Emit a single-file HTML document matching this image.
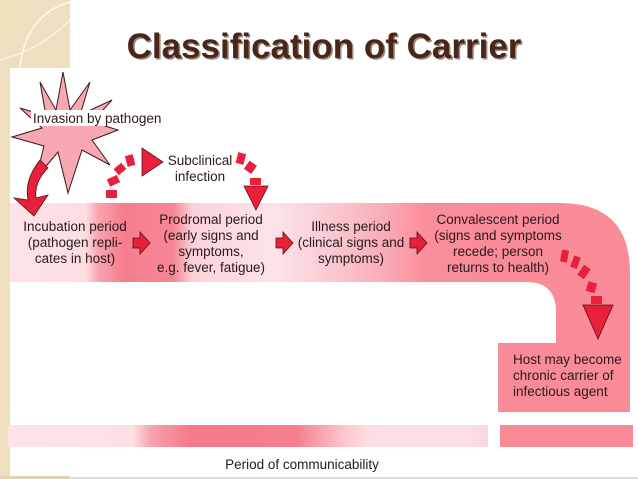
<!DOCTYPE html>
<html><head><meta charset="utf-8"><style>
html,body{margin:0;padding:0;background:#fff}
svg{display:block}
text{font-family:"Liberation Sans",Arial,sans-serif;fill:#2a1a1a}
</style></head><body>
<svg width="638" height="479" viewBox="0 0 638 479" xmlns="http://www.w3.org/2000/svg">
<defs>
<linearGradient id="band" x1="10" x2="640" y1="0" y2="0" gradientUnits="userSpaceOnUse">
<stop offset="0" stop-color="#fde3e6"/>
<stop offset="0.12" stop-color="#fcdde2"/>
<stop offset="0.14" stop-color="#f7a4b0"/>
<stop offset="0.18" stop-color="#f57d8d"/>
<stop offset="0.26" stop-color="#f68797"/>
<stop offset="0.29" stop-color="#fbd3da"/>
<stop offset="0.42" stop-color="#fbe3e7"/>
<stop offset="0.5" stop-color="#f9cdd5"/>
<stop offset="0.6" stop-color="#f9aab5"/>
<stop offset="0.66" stop-color="#f98d99"/>
<stop offset="1" stop-color="#f98b97"/>
</linearGradient>
<linearGradient id="bar" x1="8" x2="488" y1="0" y2="0" gradientUnits="userSpaceOnUse">
<stop offset="0" stop-color="#fde3e6"/>
<stop offset="0.26" stop-color="#fde0e4"/>
<stop offset="0.3" stop-color="#f7a0ad"/>
<stop offset="0.38" stop-color="#f57a8a"/>
<stop offset="0.6" stop-color="#f57e8e"/>
<stop offset="0.7" stop-color="#fbc6cf"/>
<stop offset="0.75" stop-color="#fddde1"/>
<stop offset="0.95" stop-color="#fde0e4"/>
<stop offset="1" stop-color="#fbd6e0"/>
</linearGradient>
</defs>
<rect x="0" y="0" width="70" height="68" fill="#eedfbf"/>
<path d="M20 68 Q25 15 70 2" fill="none" stroke="#fff8ea" stroke-width="1.5"/>
<path d="M0 60 Q40 50 70 20" fill="none" stroke="#fff8ea" stroke-width="1"/>
<rect x="0" y="68" width="10" height="411" fill="#eedfbf"/>
<rect x="0" y="476" width="70" height="3" fill="#e4d2ad"/>
<rect x="70" y="477" width="568" height="2" fill="#ddd"/>
<text x="324" y="58" text-anchor="middle" font-size="35" font-weight="bold" style="fill:#9a8a80" dx="1.5" dy="1.5">Classification of Carrier</text>
<text x="324" y="58" text-anchor="middle" font-size="35" font-weight="bold" style="fill:#4a2618">Classification of Carrier</text>
<path d="M10 203 H560 Q630 203 630 273 V412 H498 V343 H556 V312 Q556 282 526 282 H10 Z" fill="url(#band)"/>
<rect x="8" y="425" width="480" height="22" fill="url(#bar)"/>
<rect x="500" y="425" width="133" height="22" fill="#f98b97"/>
<polygon points="63,72 70,110 90,82 80,115 112,100 92,122 118,130 92,140 110,165 82,150 68,193 58,152 36,178 44,146 12,137 42,128 20,108 46,116 40,82 56,110" fill="#f7a8b3" stroke="#3a1a1a" stroke-width="1"/>
<rect x="31" y="110" width="133" height="16" fill="#fff"/>
<text x="33" y="123" font-size="13.5">Invasion by pathogen</text>
<path d="M40 160 Q24 180 28 200 L14 198 L34 216 L48 195 L36 198 Q34 182 48 168 Z" fill="#e8203c" stroke="#5a1010" stroke-width="0.8"/>
<g fill="#e8203c">
<rect x="106" y="190" width="11" height="8"/>
<rect x="108" y="177" width="11" height="8" transform="rotate(-25 113 181)"/>
<rect x="115" y="165" width="10" height="8" transform="rotate(-40 120 169)"/>
<rect x="126" y="155" width="8" height="11" transform="rotate(-15 130 160)"/>
</g>
<polygon points="142,148 142,176 163,162" fill="#e8203c" stroke="#5a1010" stroke-width="0.8"/>
<text x="200" y="165" text-anchor="middle" font-size="13.5">Subclinical</text>
<text x="200" y="181" text-anchor="middle" font-size="13.5">infection</text>
<g fill="#e8203c">
<rect x="237" y="153" width="8" height="11" transform="rotate(15 241 158)"/>
<rect x="246" y="162" width="9" height="10" transform="rotate(35 250 167)"/>
<rect x="250" y="178" width="11" height="7"/>
</g>
<polygon points="244,186 268,186 256,210" fill="#e8203c" stroke="#5a1010" stroke-width="0.8"/>
<g font-size="13.5" text-anchor="middle">
<text x="75" y="231">Incubation period</text>
<text x="75" y="247">(pathogen repli-</text>
<text x="75" y="263">cates in host)</text>
<text x="211" y="224">Prodromal period</text>
<text x="211" y="240">(early signs and</text>
<text x="211" y="256">symptoms,</text>
<text x="211" y="272">e.g. fever, fatigue)</text>
<text x="351" y="231">Illness period</text>
<text x="351" y="247">(clinical signs and</text>
<text x="351" y="263">symptoms)</text>
<text x="498" y="224">Convalescent period</text>
<text x="498" y="240">(signs and symptoms</text>
<text x="498" y="256">recede; person</text>
<text x="498" y="272">returns to health)</text>
</g>
<g font-size="13.5">
<text x="513" y="364">Host may become</text>
<text x="513" y="380">chronic carrier of</text>
<text x="513" y="396">infectious agent</text>
</g>
<text x="302" y="469" font-size="13.5" text-anchor="middle">Period of communicability</text>
<g fill="#e8203c" stroke="#5a1010" stroke-width="0.8">
<path d="M133 238 H140 V232 L150 243 L140 254 V248 H133 Z"/>
<path d="M276 238 H283 V232 L293 243 L283 254 V248 H276 Z"/>
<path d="M410 238 H417 V232 L427 243 L417 254 V248 H410 Z"/>
</g>
<g fill="#e8203c">
<rect x="561" y="250" width="7" height="12" transform="rotate(10 564 256)"/>
<rect x="572" y="256" width="7" height="12" transform="rotate(20 575 262)"/>
<rect x="580" y="266" width="8" height="12" transform="rotate(35 584 272)"/>
<rect x="587" y="282" width="9" height="10" transform="rotate(15 591 287)"/>
<rect x="591" y="296" width="11" height="8"/>
</g>
<polygon points="583,305 613,305 598,339" fill="#e8203c" stroke="#5a1010" stroke-width="0.8"/>
</svg>
</body></html>
